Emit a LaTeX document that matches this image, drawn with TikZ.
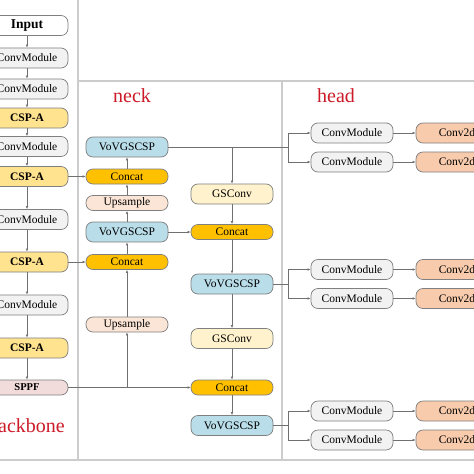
\documentclass[tikz,border=0pt]{standalone}
\usepackage{fontspec}
\setmainfont{Liberation Serif}
\usetikzlibrary{arrows.meta}
\definecolor{cmfill}{HTML}{F2F2F2}
\definecolor{cspfill}{HTML}{FFE38F}
\definecolor{sppffill}{HTML}{F2DCDB}
\definecolor{vovfill}{HTML}{B9DDE9}
\definecolor{catfill}{HTML}{FFC000}
\definecolor{upfill}{HTML}{FBE5D6}
\definecolor{gsfill}{HTML}{FFF2CC}
\definecolor{c2dfill}{HTML}{F8CBAD}
\definecolor{bordercol}{HTML}{7F7F7F}
\definecolor{linecol}{HTML}{707070}
\definecolor{panelcol}{HTML}{CCCCCC}
\definecolor{labred}{HTML}{CC1A28}
\begin{document}
\begin{tikzpicture}[x=1pt,y=-1pt,
  blkbox/.style={draw=bordercol, line width=0.7pt, rounded corners=7pt, minimum width=82pt, minimum height=20pt, inner sep=0pt, font=\fontsize{11.5}{12}\selectfont},
  thinbox/.style={blkbox, minimum height=15pt},
  inpbox/.style={blkbox, fill=white, font=\fontsize{13.5}{14}\selectfont\bfseries},
  cmbox/.style={blkbox, fill=cmfill},
  cspbox/.style={blkbox, fill=cspfill, font=\fontsize{11.5}{12}\selectfont\bfseries},
  sppfbox/.style={thinbox, fill=sppffill, font=\fontsize{10.5}{12}\selectfont\bfseries},
  vovbox/.style={blkbox, fill=vovfill},
  catbox/.style={thinbox, fill=catfill},
  upbox/.style={thinbox, fill=upfill},
  gsbox/.style={blkbox, fill=gsfill},
  cdbox/.style={blkbox, fill=c2dfill},
  lablbl/.style={text=labred, font=\fontsize{20}{22}\selectfont, inner sep=0pt},
  arrline/.style={draw=linecol, line width=0.7pt, -{Latex[length=3pt,width=2.6pt]}},
  plainline/.style={draw=linecol, line width=0.7pt},
  panelline/.style={draw=panelcol, line width=1.2pt}]
\useasboundingbox (0,0) rectangle (474,474);
\fill[white] (0,0) rectangle (474,474);
% panels
\draw[panelline] (78,0) -- (78,460);
\draw[panelline] (78,81) -- (474,81);
\draw[panelline] (282,81) -- (282,460);
\draw[panelline] (0,460) -- (474,460);
% labels
\node[lablbl, anchor=east] (lbb) at (65,426) {Backbone};
\node[lablbl] (lneck) at (132,96) {neck};
\node[lablbl] (lhead) at (336,96) {head};
% backbone
\node[inpbox] (in) at (27,25.5) {Input};
\node[cmbox] (b1) at (27,58) {ConvModule};
\node[cmbox] (b2) at (27,89) {ConvModule};
\node[cspbox] (b3) at (27,118) {CSP-A};
\node[cmbox] (b4) at (27,146.5) {ConvModule};
\node[cspbox] (b5) at (27,176.5) {CSP-A};
\node[cmbox] (b6) at (27,219.5) {ConvModule};
\node[cspbox] (b7) at (27,262) {CSP-A};
\node[cmbox] (b8) at (27,305) {ConvModule};
\node[cspbox] (b9) at (27,348) {CSP-A};
\node[sppfbox] (b10) at (27,387.5) {SPPF};
\foreach \a/\b in {in/b1,b1/b2,b2/b3,b3/b4,b4/b5,b5/b6,b6/b7,b7/b8,b8/b9,b9/b10}
  \draw[arrline] (\a) -- (\b);
% neck column 1
\node[vovbox] (nv1) at (127,147) {VoVGSCSP};
\node[catbox] (nc1) at (127,176.5) {Concat};
\node[upbox] (nu1) at (127,203) {Upsample};
\node[vovbox] (nv2) at (127,232) {VoVGSCSP};
\node[catbox] (nc2) at (127,262) {Concat};
\node[upbox] (nu2) at (127,324.5) {Upsample};
% neck column 2
\node[gsbox] (g1) at (232,194) {GSConv};
\node[catbox] (pc1) at (232,232) {Concat};
\node[vovbox] (pv1) at (232,284) {VoVGSCSP};
\node[gsbox] (g2) at (232,338.5) {GSConv};
\node[catbox] (pc2) at (232,387.5) {Concat};
\node[vovbox] (pv2) at (232,425.5) {VoVGSCSP};
% neck connections
\draw[arrline] (b5) -- (nc1);
\draw[arrline] (b7) -- (nc2);
\draw[arrline] (b10) -- (pc2);
\coordinate (j1) at (127,387.5);
\draw[arrline] (j1) -- (nu2);
\draw[arrline] (nu2) -- (nc2);
\draw[arrline] (nc2) -- (nv2);
\draw[arrline] (nv2) -- (nu1);
\draw[arrline] (nu1) -- (nc1);
\draw[arrline] (nc1) -- (nv1);
\coordinate (h1) at (288,147);
\coordinate (j2) at (232,147);
\draw[plainline] (nv1) -- (h1);
\draw[arrline] (j2) -- (g1);
\draw[arrline] (g1) -- (pc1);
\draw[arrline] (nv2) -- (pc1);
\draw[arrline] (pc1) -- (pv1);
\draw[arrline] (pv1) -- (g2);
\draw[arrline] (g2) -- (pc2);
\draw[arrline] (pc2) -- (pv2);
\coordinate (h2) at (288,284);
\coordinate (h3) at (288,425.5);
\draw[plainline] (pv1) -- (h2);
\draw[plainline] (pv2) -- (h3);
% head
\node[cmbox] (hm1) at (352,133) {ConvModule};
\node[cmbox] (hm2) at (352,162) {ConvModule};
\node[cmbox] (hm3) at (352,269.5) {ConvModule};
\node[cmbox] (hm4) at (352,298.5) {ConvModule};
\node[cmbox] (hm5) at (352,411) {ConvModule};
\node[cmbox] (hm6) at (352,440) {ConvModule};
\node[cdbox] (hc1) at (457,133) {Conv2d};
\node[cdbox] (hc2) at (457,162) {Conv2d};
\node[cdbox] (hc3) at (457,269.5) {Conv2d};
\node[cdbox] (hc4) at (457,298.5) {Conv2d};
\node[cdbox] (hc5) at (457,411) {Conv2d};
\node[cdbox] (hc6) at (457,440) {Conv2d};
\draw[arrline] (h1) |- (hm1);
\draw[arrline] (h1) |- (hm2);
\draw[arrline] (h2) |- (hm3);
\draw[arrline] (h2) |- (hm4);
\draw[arrline] (h3) |- (hm5);
\draw[arrline] (h3) |- (hm6);
\foreach \i in {1,...,6}
  \draw[arrline] (hm\i) -- (hc\i);
\end{tikzpicture}
\end{document}
